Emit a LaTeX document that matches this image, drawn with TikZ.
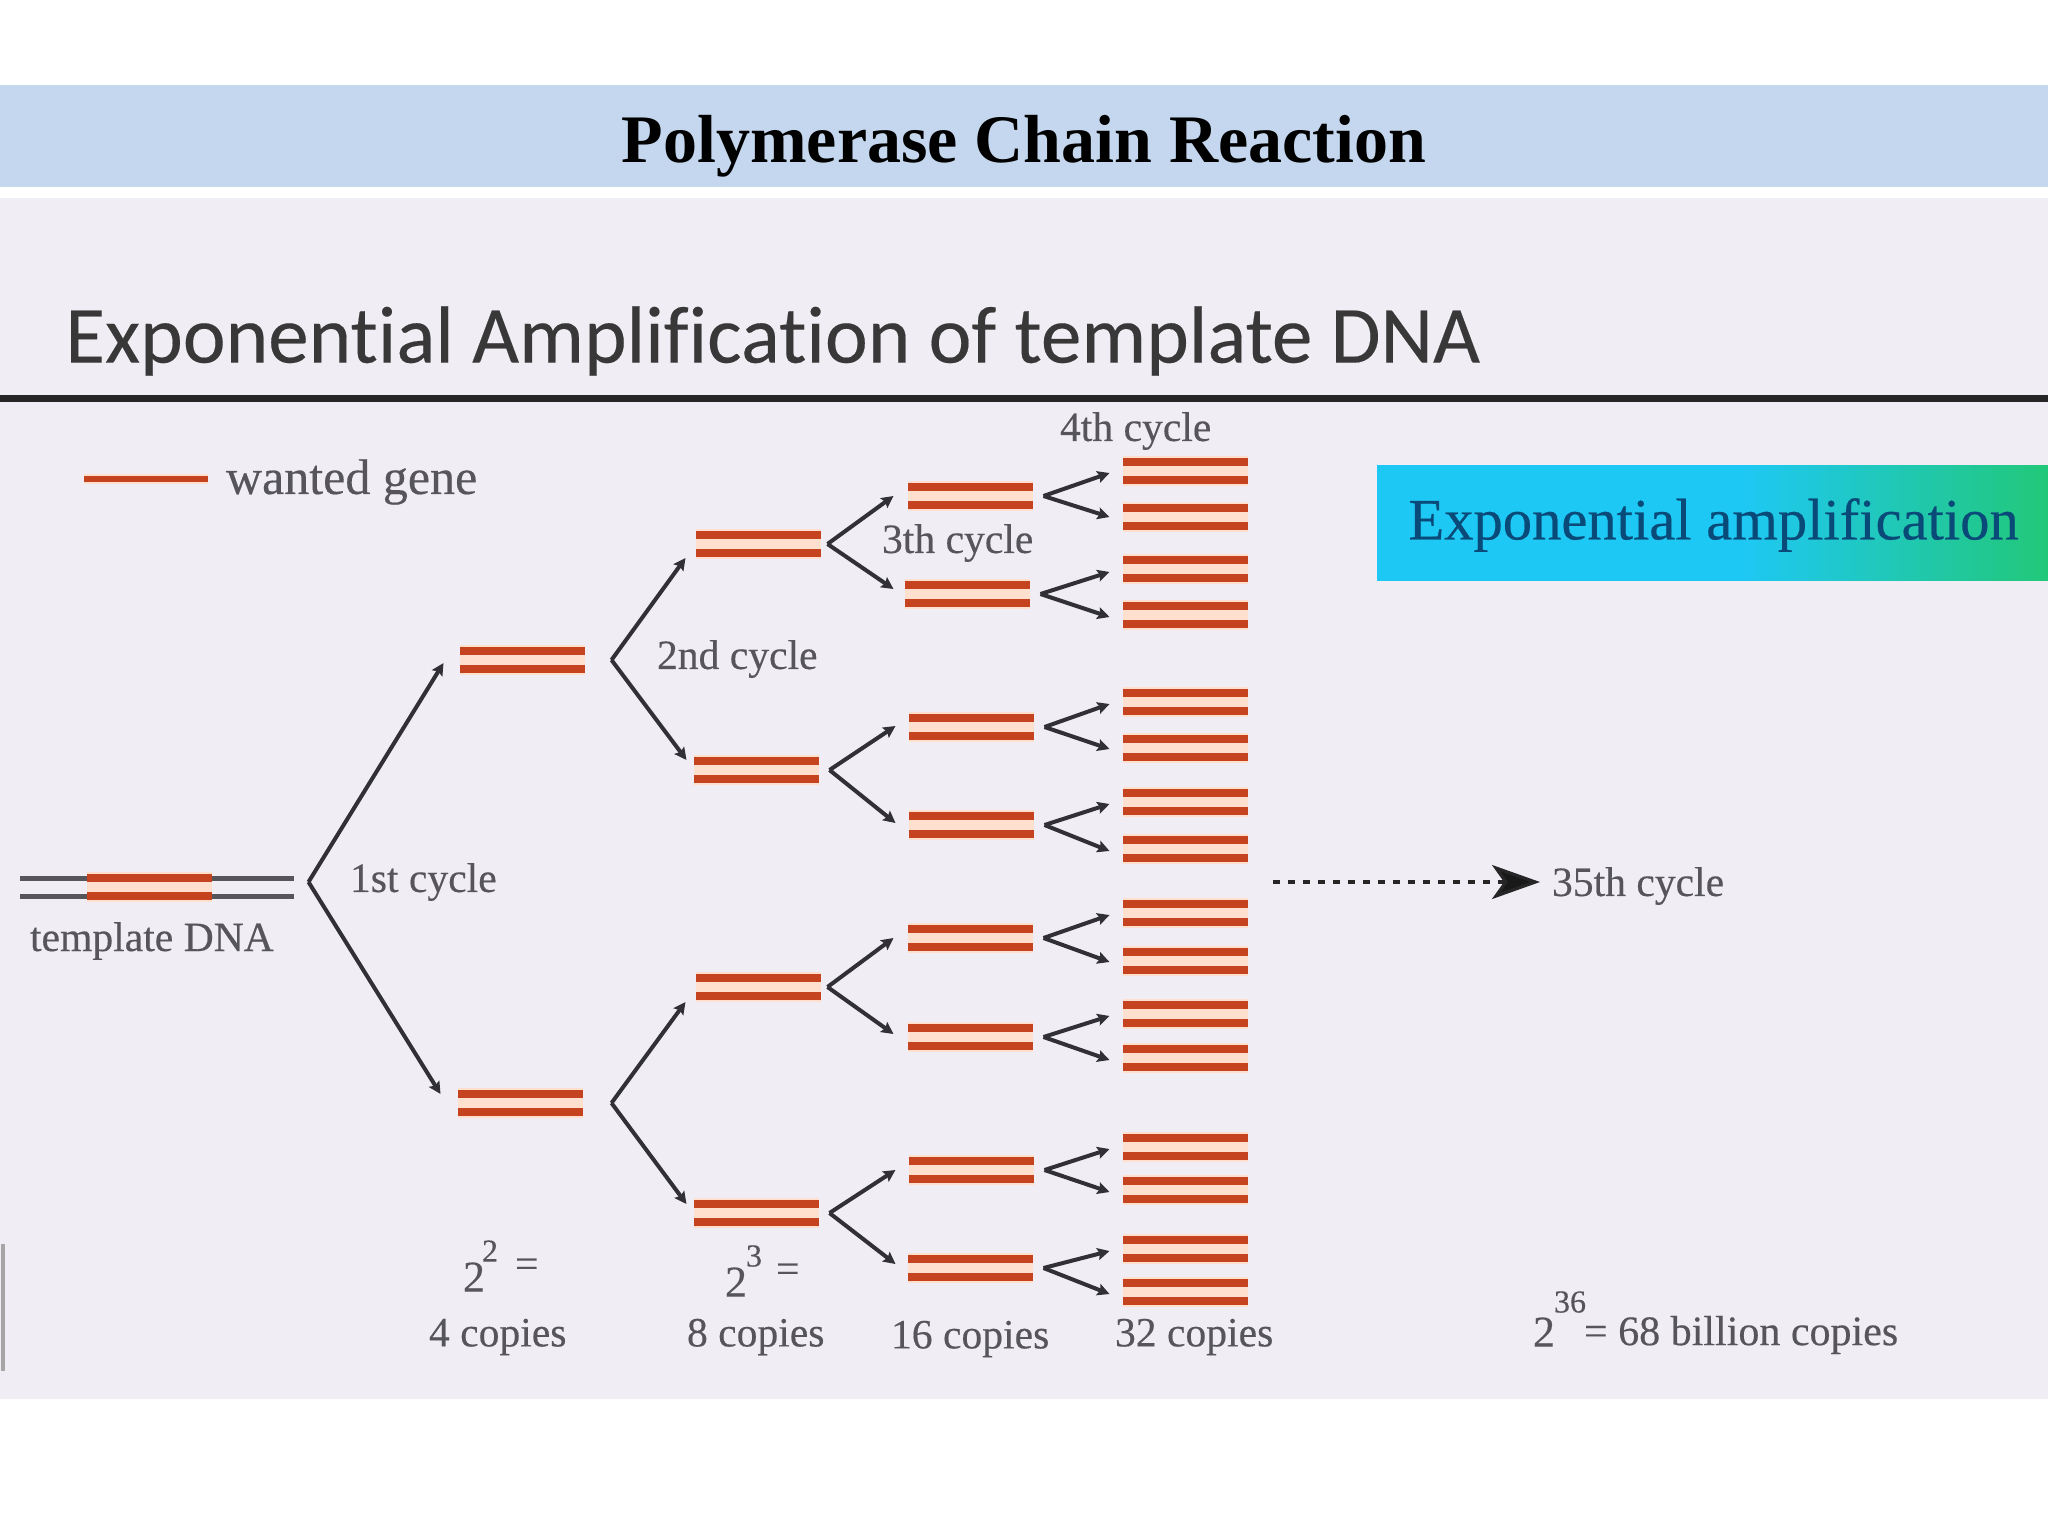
\documentclass[tikz,border=0pt]{standalone}
\usepackage{fontspec}
\setmainfont{Liberation Serif}
\newfontfamily\lblfont[FakeBold=0.35]{Liberation Serif}
\newfontfamily\headfont[Ligatures=NoCommon,FakeBold=0.2]{Carlito}
\usetikzlibrary{arrows.meta}
\definecolor{bandblue}{HTML}{C5D7EE}
\definecolor{panelbg}{HTML}{F1EDF4}
\definecolor{barred}{HTML}{C6431F}
\definecolor{barglow}{HTML}{FFE0CF}
\definecolor{lblgrey}{HTML}{55555A}
\definecolor{linedark}{HTML}{303036}
\definecolor{boxcyan}{HTML}{1EC8F5}
\definecolor{boxgreen}{HTML}{22C878}
\definecolor{boxtext}{HTML}{0A4A78}
\pgfdeclarehorizontalshading{boxgrad}{100bp}{color(0bp)=(boxcyan); color(52bp)=(boxcyan); color(75bp)=(boxgreen); color(100bp)=(boxgreen)}
\tikzset{
  x=0.5pt,y=-0.5pt,
  pairnode/.style={fill=barglow,draw=none,inner sep=0pt,outer sep=0pt,minimum width=62.5pt,minimum height=15pt},
  barline/.style={draw=barred,line width=3.8pt},
  strand/.style={draw=lblgrey,line width=2.5pt},
  conn/.style={draw=linedark,line width=2pt,line join=round,-{Stealth[length=6pt,width=6pt,inset=1pt]}},
  lbl/.style={inner sep=0pt,outer sep=0pt,text=lblgrey,font=\lblfont\fontsize{20.8}{24}\selectfont},
  sup/.style={inner sep=0pt,outer sep=0pt,text=lblgrey,font=\lblfont\fontsize{16}{18}\selectfont},
  bigtwo/.style={inner sep=0pt,outer sep=0pt,text=lblgrey,font=\lblfont\fontsize{22}{24}\selectfont},
}
\newcommand{\pairbar}[3]{%
  \node[pairnode] (#1) at (#2,#3) {};
  \draw[barline] ([shift={(0,-9)}]#1.west) -- ([shift={(0,-9)}]#1.east);
  \draw[barline] ([shift={(0,9)}]#1.west) -- ([shift={(0,9)}]#1.east);
}
% source, target, gap after source, gap before target, y offset at target
\newcommand{\link}[5]{%
  \draw[conn] ([shift={(#3,0)}]#1.east) -- ([shift={(-#4,#5)}]#2.west);
}
\begin{document}
\begin{tikzpicture}
\useasboundingbox (0,0) rectangle (2048,1536);
\fill[white] (0,0) rectangle (2048,1536);
\fill[bandblue] (0,85) rectangle (2048,187);
\fill[panelbg] (0,198) rectangle (2048,1399);
\draw[draw=black!35,line width=2pt] (3,1244) -- (3,1371);
\node[inner sep=0pt,font=\fontsize{34}{36}\selectfont\bfseries,text=black] (title) at (1024,146) {Polymerase Chain Reaction};
\node[inner sep=0pt,anchor=west,font=\headfont\fontsize{40.6}{44}\selectfont,text=black!78] (heading) at (65,341) {Exponential Amplification of template DNA};
\fill[black!85] (0,395) rectangle (2048,402);

% gradient box
\shade[shading=boxgrad] (1377,465) rectangle (2048,580);
\node[inner sep=0pt,anchor=west,text=boxtext,font=\lblfont\fontsize{29.3}{32}\selectfont] (boxlabel) at (1408,525) {Exponential amplification};

% key
\coordinate (keyl) at (84,479);
\coordinate (keyr) at (208,479);
\draw[draw=barglow,line width=5pt] (keyl) -- (keyr);
\draw[barline,line width=3pt] (keyl) -- (keyr);
\node[lbl,anchor=west,font=\lblfont\fontsize{25}{28}\selectfont] (wanted) at (226,482) {wanted gene};

% template
\coordinate (s1l) at (20,878); \coordinate (s1r) at (294,878);
\coordinate (s2l) at (20,896); \coordinate (s2r) at (294,896);
\draw[strand] (s1l) -- (s1r);
\draw[strand] (s2l) -- (s2r);
\pairbar{dna}{149}{887}
\node[lbl,anchor=west] (tmpl) at (30,941) {template DNA};

% cycle 1
\pairbar{a1}{522}{660}
\pairbar{a2}{520}{1103}
% cycle 2
\pairbar{b1}{758}{544}
\pairbar{b2}{756}{770}
\pairbar{b3}{758}{987}
\pairbar{b4}{756}{1213}
% cycle 3
\pairbar{c1}{970}{496}
\pairbar{c2}{967}{594}
\pairbar{c3}{971}{727}
\pairbar{c4}{971}{825}
\pairbar{c5}{970}{938}
\pairbar{c6}{970}{1037}
\pairbar{c7}{971}{1170}
\pairbar{c8}{970}{1268}
% cycle 4
\pairbar{d1}{1185}{471}
\pairbar{d2}{1185}{517}
\pairbar{d3}{1185}{569}
\pairbar{d4}{1185}{615}
\pairbar{d5}{1185}{702}
\pairbar{d6}{1185}{748}
\pairbar{d7}{1185}{802}
\pairbar{d8}{1185}{849}
\pairbar{d9}{1185}{913}
\pairbar{d10}{1185}{961}
\pairbar{d11}{1185}{1014}
\pairbar{d12}{1185}{1058}
\pairbar{d13}{1185}{1147}
\pairbar{d14}{1185}{1190}
\pairbar{d15}{1185}{1249}
\pairbar{d16}{1185}{1292}

% connectors
\draw[conn] ([shift={(97,-5)}]dna.east) -- ([shift={(-16,3)}]a1.west);
\draw[conn] ([shift={(97,-5)}]dna.east) -- ([shift={(-17,-9)}]a2.west);
\link{a1}{b1}{27}{10}{14}
\link{a1}{b2}{27}{7}{-10}
\link{a2}{b3}{29}{10}{15}
\link{a2}{b4}{29}{7}{-9}
\link{b1}{c1}{7}{14}{0}
\link{b1}{c2}{7}{11}{-5}
\link{b2}{c3}{11}{13}{-1}
\link{b2}{c4}{11}{13}{-2}
\link{b3}{c5}{7}{14}{0}
\link{b3}{c6}{7}{14}{-3}
\link{b4}{c7}{11}{13}{0}
\link{b4}{c8}{11}{12}{-4}
\link{c1}{d1}{11}{13}{2}
\link{c1}{d2}{11}{13}{0}
\link{c2}{d3}{11}{13}{3}
\link{c2}{d4}{11}{13}{2}
\link{c3}{d5}{11}{13}{2}
\link{c3}{d6}{11}{13}{1}
\link{c4}{d7}{11}{13}{2}
\link{c4}{d8}{11}{13}{2}
\link{c5}{d9}{11}{13}{2}
\link{c5}{d10}{11}{13}{1}
\link{c6}{d11}{11}{13}{2}
\link{c6}{d12}{11}{13}{2}
\link{c7}{d13}{11}{13}{2}
\link{c7}{d14}{11}{13}{2}
\link{c8}{d15}{11}{13}{2}
\link{c8}{d16}{11}{13}{2}

% cycle labels
\node[lbl,anchor=west] (l1) at (350,882) {1st cycle};
\node[lbl,anchor=west] (l2) at (657,659) {2nd cycle};
\node[lbl,anchor=west] (l3) at (882,543) {3th cycle};
\node[lbl,anchor=west] (l4) at (1060,431) {4th cycle};
\node[lbl,anchor=west] (l35) at (1552,886) {35th cycle};
\coordinate (dotstart) at (1273,882);
\draw[draw=black!85,line width=1.6pt,dash pattern=on 3.5pt off 4pt,-{Stealth[length=24pt,width=17pt,inset=6pt,fill=black!90]}] (dotstart) -- ([shift={(-12,-4)}]l35.west);

% counts
\node[bigtwo,anchor=west] (p2) at (463,1277) {2};
\node[sup,anchor=west] (p2s) at (482,1251) {2};
\node[lbl,anchor=west] (p2e) at (515,1268) {=};
\node[bigtwo,anchor=west] (p3) at (725,1282) {2};
\node[sup,anchor=west] (p3s) at (746,1256) {3};
\node[lbl,anchor=west] (p3e) at (776,1273) {=};
\node[lbl,anchor=west] (c4c) at (429,1337) {4 copies};
\node[lbl,anchor=west] (c8c) at (687,1337) {8 copies};
\node[lbl,anchor=west] (c16c) at (891,1339) {16 copies};
\node[lbl,anchor=west] (c32c) at (1115,1337) {32 copies};
\node[bigtwo,anchor=west] (p36) at (1533,1332) {2};
\node[sup,anchor=west] (p36s) at (1554,1302) {36};
\node[lbl,anchor=west,font=\lblfont\fontsize{21}{24}\selectfont] (c68) at (1584,1335) {= 68 billion copies};
\end{tikzpicture}
\end{document}
